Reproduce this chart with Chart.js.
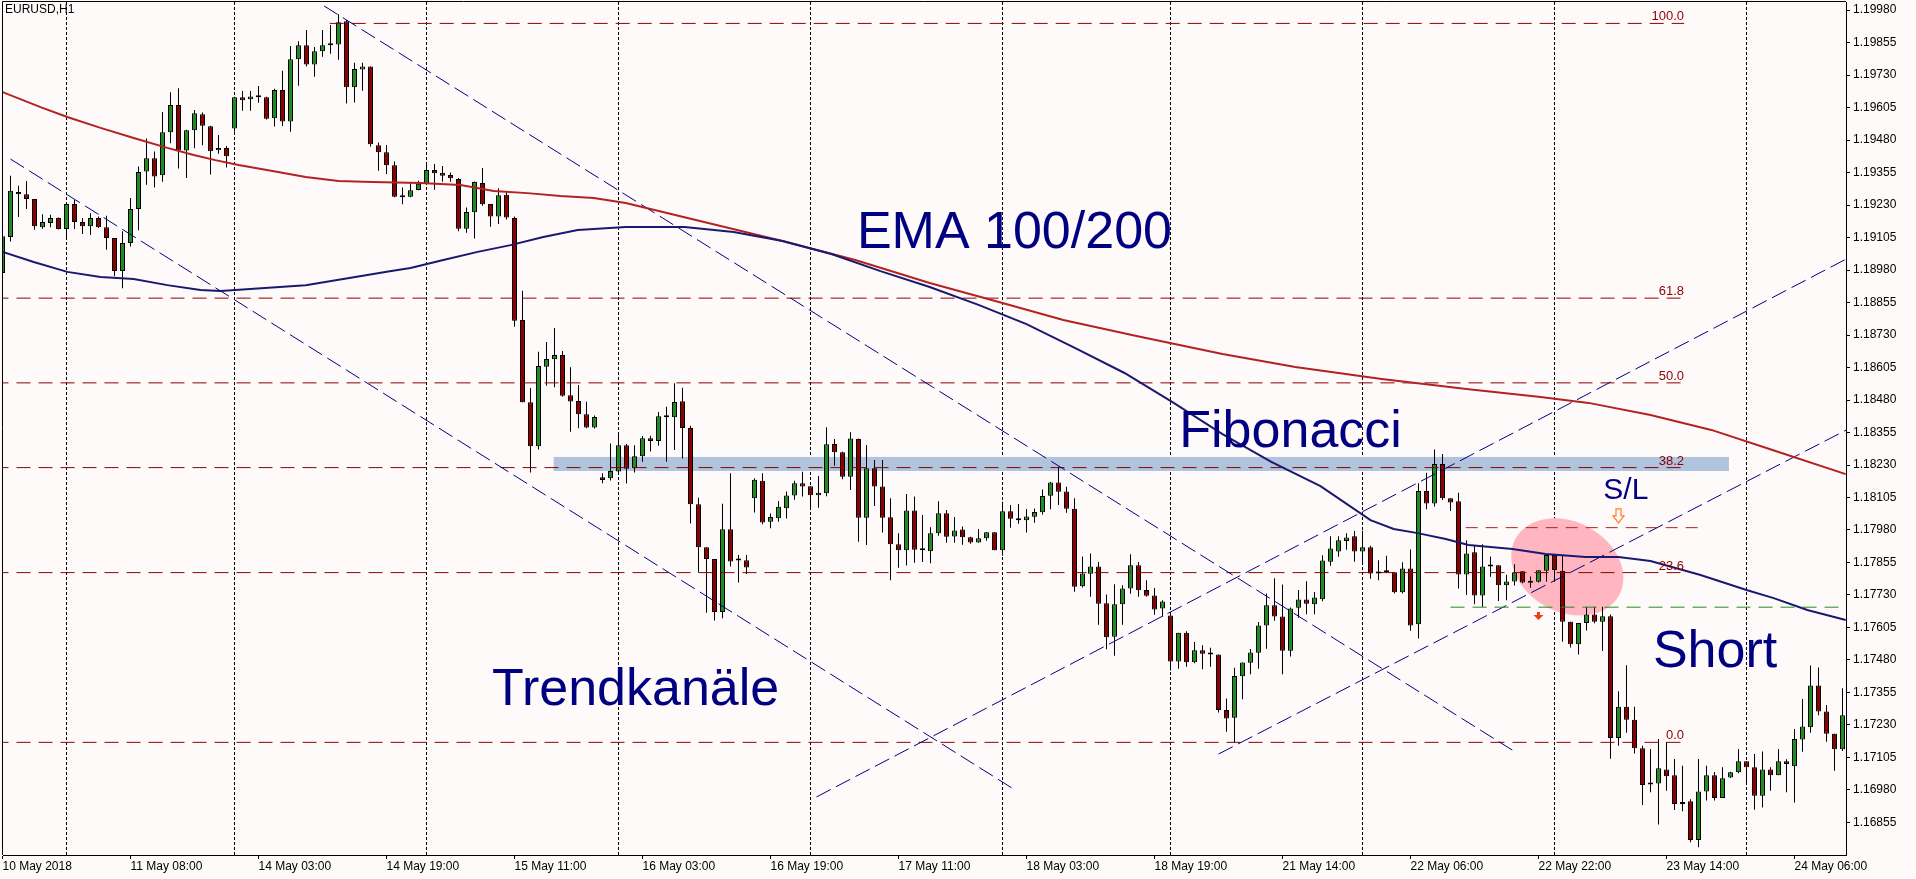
<!DOCTYPE html>
<html>
<head>
<meta charset="utf-8">
<title>EURUSD,H1</title>
<script src="https://cdn.jsdelivr.net/npm/chart.js@4.4.1/dist/chart.umd.min.js"></script>
<style>
  html, body { margin: 0; padding: 0; background: #fffafa; }
  #wrap { width: 1916px; height: 879px; }
</style>
</head>
<body>
<div id="wrap"><canvas id="chart" width="1916" height="879"></canvas></div>
<script>
// ===== Data (EURUSD H1, bar index 0 = 10 May 2018 16:00) =====
const opens = [
  1.18969, 1.19107, 1.19280, 1.19272, 1.19253, 1.19145, 1.19161, 1.19180, 1.19138, 1.19234,
  1.19165, 1.19149, 1.19180, 1.19145, 1.19103, 1.18976, 1.19084, 1.19215, 1.19359, 1.19410,
  1.19345, 1.19510, 1.19615, 1.19440, 1.19518, 1.19579, 1.19533, 1.19441, 1.19450, 1.19525,
  1.19645, 1.19637, 1.19647, 1.19645, 1.19564, 1.19673, 1.19552, 1.19791, 1.19845, 1.19771,
  1.19822, 1.19845, 1.19848, 1.19937, 1.19683, 1.19752, 1.19763, 1.19460, 1.19433, 1.19383,
  1.19262, 1.19262, 1.19288, 1.19312, 1.19365, 1.19354, 1.19346, 1.19330, 1.19139, 1.19202,
  1.19315, 1.19234, 1.19186, 1.19270, 1.19180, 1.18788, 1.18471, 1.18302, 1.18608, 1.18637,
  1.18653, 1.18498, 1.18476, 1.18425, 1.18374, 1.18183, 1.18179, 1.18205, 1.18306, 1.18218,
  1.18264, 1.18333, 1.18322, 1.18418, 1.18414, 1.18475, 1.18372, 1.18079, 1.17914, 1.17868,
  1.17664, 1.17983, 1.17864, 1.17864, 1.18102, 1.18169, 1.18012, 1.18025, 1.18064, 1.18113,
  1.18160, 1.18148, 1.18114, 1.18121, 1.18311, 1.18279, 1.18185, 1.18330, 1.18027, 1.18218,
  1.18147, 1.18029, 1.17925, 1.17902, 1.18055, 1.17907, 1.17898, 1.17967, 1.18044, 1.17955,
  1.17982, 1.17952, 1.17932, 1.17948, 1.17971, 1.17902, 1.18052, 1.18025, 1.18017, 1.18031,
  1.18048, 1.18112, 1.18163, 1.18128, 1.18062, 1.17764, 1.17812, 1.17840, 1.17698, 1.17569,
  1.17694, 1.17755, 1.17844, 1.17749, 1.17728, 1.17678, 1.17651, 1.17474, 1.17585, 1.17471,
  1.17517, 1.17506, 1.17501, 1.17287, 1.17258, 1.17417, 1.17469, 1.17508, 1.17613, 1.17690,
  1.17647, 1.17515, 1.17681, 1.17713, 1.17694, 1.17714, 1.17858, 1.17897, 1.17938, 1.17956,
  1.17897, 1.17914, 1.17817, 1.17817, 1.17817, 1.17740, 1.17832, 1.17617, 1.18130, 1.18082,
  1.18234, 1.18102, 1.18091, 1.17809, 1.17894, 1.17728, 1.17844, 1.17844, 1.17767, 1.17782,
  1.17821, 1.17777, 1.17781, 1.17823, 1.17884, 1.17823, 1.17627, 1.17540, 1.17622, 1.17655,
  1.17627, 1.17648, 1.17180, 1.17300, 1.17250, 1.17140, 1.17005, 1.17005, 1.17059, 1.17036,
  1.16926, 1.16936, 1.16787, 1.16974, 1.17036, 1.16949, 1.17028, 1.17048, 1.17090, 1.17067,
  1.16958, 1.17059, 1.17036, 1.17090, 1.17071, 1.17174, 1.17221, 1.17382, 1.17282, 1.17196,
  1.17136
];
const highs = [
  1.19115, 1.19343, 1.19304, 1.19323, 1.19253, 1.19195, 1.19193, 1.19182, 1.19236, 1.19250,
  1.19180, 1.19199, 1.19186, 1.19189, 1.19103, 1.19129, 1.19257, 1.19378, 1.19486, 1.19436,
  1.19588, 1.19664, 1.19679, 1.19520, 1.19596, 1.19586, 1.19535, 1.19500, 1.19457, 1.19647,
  1.19669, 1.19669, 1.19688, 1.19647, 1.19678, 1.19747, 1.19842, 1.19860, 1.19904, 1.19838,
  1.19904, 1.19923, 1.19964, 1.19942, 1.19778, 1.19778, 1.19763, 1.19471, 1.19461, 1.19398,
  1.19298, 1.19314, 1.19324, 1.19386, 1.19388, 1.19380, 1.19355, 1.19334, 1.19221, 1.19321,
  1.19373, 1.19234, 1.19295, 1.19280, 1.19186, 1.18900, 1.18526, 1.18666, 1.18703, 1.18757,
  1.18669, 1.18606, 1.18538, 1.18473, 1.18420, 1.18198, 1.18313, 1.18348, 1.18311, 1.18306,
  1.18342, 1.18343, 1.18434, 1.18454, 1.18545, 1.18527, 1.18381, 1.18104, 1.17914, 1.17868,
  1.18081, 1.18198, 1.17884, 1.17884, 1.18179, 1.18198, 1.18043, 1.18092, 1.18128, 1.18169,
  1.18204, 1.18148, 1.18188, 1.18375, 1.18330, 1.18281, 1.18356, 1.18332, 1.18307, 1.18249,
  1.18249, 1.18102, 1.17967, 1.18118, 1.18109, 1.18038, 1.17991, 1.18091, 1.18057, 1.18030,
  1.17993, 1.17954, 1.17984, 1.17971, 1.17971, 1.18089, 1.18076, 1.18080, 1.18061, 1.18063,
  1.18136, 1.18165, 1.18223, 1.18146, 1.18102, 1.17878, 1.17890, 1.17857, 1.17732, 1.17771,
  1.17767, 1.17887, 1.17857, 1.17787, 1.17757, 1.17710, 1.17659, 1.17585, 1.17590, 1.17549,
  1.17537, 1.17527, 1.17501, 1.17332, 1.17450, 1.17470, 1.17522, 1.17626, 1.17736, 1.17794,
  1.17770, 1.17682, 1.17749, 1.17783, 1.17741, 1.17883, 1.17956, 1.17956, 1.17967, 1.17976,
  1.17977, 1.17919, 1.17864, 1.17881, 1.17817, 1.17856, 1.17905, 1.18160, 1.18200, 1.18290,
  1.18272, 1.18102, 1.18123, 1.17941, 1.17918, 1.17925, 1.17878, 1.17844, 1.17808, 1.17848,
  1.17821, 1.17801, 1.17825, 1.17884, 1.17886, 1.17884, 1.17627, 1.17622, 1.17685, 1.17685,
  1.17685, 1.17655, 1.17360, 1.17460, 1.17300, 1.17150, 1.17137, 1.17176, 1.17164, 1.17099,
  1.17073, 1.16944, 1.17099, 1.17073, 1.17049, 1.17067, 1.17050, 1.17137, 1.17090, 1.17118,
  1.17128, 1.17067, 1.17137, 1.17098, 1.17214, 1.17330, 1.17459, 1.17451, 1.17307, 1.17196,
  1.17371
];
const lows = [
  1.18960, 1.19090, 1.19184, 1.19215, 1.19135, 1.19139, 1.19145, 1.19136, 1.19103, 1.19138,
  1.19119, 1.19115, 1.19142, 1.19058, 1.18956, 1.18910, 1.19071, 1.19133, 1.19308, 1.19298,
  1.19320, 1.19468, 1.19371, 1.19334, 1.19449, 1.19460, 1.19348, 1.19427, 1.19375, 1.19512,
  1.19593, 1.19593, 1.19624, 1.19559, 1.19532, 1.19534, 1.19512, 1.19689, 1.19763, 1.19724,
  1.19801, 1.19812, 1.19789, 1.19621, 1.19625, 1.19670, 1.19455, 1.19362, 1.19350, 1.19260,
  1.19233, 1.19260, 1.19287, 1.19310, 1.19289, 1.19320, 1.19320, 1.19129, 1.19124, 1.19101,
  1.19227, 1.19147, 1.19157, 1.19175, 1.18762, 1.18471, 1.18201, 1.18290, 1.18535, 1.18529,
  1.18493, 1.18358, 1.18371, 1.18371, 1.18370, 1.18160, 1.18170, 1.18200, 1.18159, 1.18201,
  1.18243, 1.18282, 1.18304, 1.18243, 1.18288, 1.18255, 1.18005, 1.17816, 1.17662, 1.17632,
  1.17640, 1.17840, 1.17778, 1.17811, 1.18047, 1.18002, 1.17987, 1.18012, 1.18024, 1.18096,
  1.18109, 1.18063, 1.18066, 1.18110, 1.18227, 1.18175, 1.18134, 1.17935, 1.17922, 1.18072,
  1.17970, 1.17787, 1.17835, 1.17843, 1.17854, 1.17857, 1.17852, 1.17958, 1.17931, 1.17931,
  1.17923, 1.17927, 1.17931, 1.17939, 1.17902, 1.17881, 1.17989, 1.18004, 1.17970, 1.18008,
  1.18040, 1.18060, 1.18076, 1.18046, 1.17742, 1.17759, 1.17723, 1.17615, 1.17521, 1.17496,
  1.17615, 1.17735, 1.17723, 1.17723, 1.17654, 1.17646, 1.17439, 1.17446, 1.17454, 1.17467,
  1.17444, 1.17454, 1.17278, 1.17204, 1.17163, 1.17329, 1.17425, 1.17446, 1.17523, 1.17631,
  1.17425, 1.17493, 1.17642, 1.17656, 1.17656, 1.17706, 1.17842, 1.17877, 1.17904, 1.17858,
  1.17854, 1.17792, 1.17787, 1.17815, 1.17736, 1.17736, 1.17592, 1.17563, 1.18060, 1.18070,
  1.18095, 1.18053, 1.17755, 1.17730, 1.17694, 1.17685, 1.17800, 1.17707, 1.17710, 1.17766,
  1.17775, 1.17758, 1.17778, 1.17781, 1.17781, 1.17550, 1.17528, 1.17501, 1.17593, 1.17621,
  1.17514, 1.17100, 1.17150, 1.17200, 1.17120, 1.16922, 1.16971, 1.16847, 1.16977, 1.16903,
  1.16898, 1.16779, 1.16759, 1.16939, 1.16939, 1.16949, 1.17026, 1.17044, 1.17001, 1.16904,
  1.16912, 1.16977, 1.17036, 1.16971, 1.16932, 1.17127, 1.17200, 1.17267, 1.17165, 1.17054,
  1.17130
];
const closes = [
  1.19110, 1.19285, 1.19272, 1.19253, 1.19149, 1.19165, 1.19180, 1.19138, 1.19234, 1.19165,
  1.19149, 1.19180, 1.19145, 1.19103, 1.18976, 1.19084, 1.19215, 1.19357, 1.19410, 1.19340,
  1.19510, 1.19615, 1.19440, 1.19518, 1.19583, 1.19535, 1.19437, 1.19450, 1.19418, 1.19645,
  1.19633, 1.19648, 1.19645, 1.19562, 1.19673, 1.19552, 1.19791, 1.19845, 1.19771, 1.19822,
  1.19845, 1.19848, 1.19933, 1.19683, 1.19754, 1.19763, 1.19464, 1.19433, 1.19383, 1.19262,
  1.19260, 1.19287, 1.19312, 1.19365, 1.19352, 1.19343, 1.19333, 1.19139, 1.19203, 1.19319,
  1.19233, 1.19186, 1.19268, 1.19182, 1.18785, 1.18471, 1.18302, 1.18611, 1.18638, 1.18653,
  1.18496, 1.18474, 1.18425, 1.18374, 1.18415, 1.18172, 1.18207, 1.18306, 1.18216, 1.18264,
  1.18333, 1.18322, 1.18418, 1.18414, 1.18472, 1.18372, 1.18079, 1.17914, 1.17868, 1.17664,
  1.17983, 1.17859, 1.17863, 1.17836, 1.18173, 1.18009, 1.18030, 1.18069, 1.18113, 1.18160,
  1.18147, 1.18114, 1.18123, 1.18310, 1.18279, 1.18185, 1.18332, 1.18027, 1.18218, 1.18147,
  1.18027, 1.17925, 1.17902, 1.18055, 1.17904, 1.17902, 1.17967, 1.18044, 1.17954, 1.17978,
  1.17952, 1.17932, 1.17948, 1.17971, 1.17902, 1.18052, 1.18023, 1.18017, 1.18032, 1.18049,
  1.18111, 1.18163, 1.18127, 1.18062, 1.17762, 1.17813, 1.17840, 1.17696, 1.17567, 1.17694,
  1.17755, 1.17844, 1.17748, 1.17727, 1.17674, 1.17705, 1.17474, 1.17585, 1.17471, 1.17517,
  1.17504, 1.17501, 1.17287, 1.17255, 1.17418, 1.17470, 1.17509, 1.17613, 1.17690, 1.17647,
  1.17515, 1.17678, 1.17713, 1.17696, 1.17720, 1.17863, 1.17909, 1.17941, 1.17951, 1.17897,
  1.17914, 1.17813, 1.17813, 1.17817, 1.17740, 1.17832, 1.17613, 1.18130, 1.18082, 1.18234,
  1.18102, 1.18086, 1.17809, 1.17890, 1.17728, 1.17840, 1.17840, 1.17767, 1.17782, 1.17816,
  1.17778, 1.17781, 1.17825, 1.17884, 1.17826, 1.17627, 1.17540, 1.17622, 1.17655, 1.17627,
  1.17648, 1.17180, 1.17300, 1.17250, 1.17140, 1.16999, 1.17001, 1.17063, 1.17033, 1.16926,
  1.16932, 1.16787, 1.16974, 1.17036, 1.16949, 1.17025, 1.17048, 1.17090, 1.17067, 1.16958,
  1.17059, 1.17036, 1.17090, 1.17080, 1.17176, 1.17224, 1.17382, 1.17282, 1.17196, 1.17136,
  1.17267
];

// time axis labels (every 16 bars) and daily separators
const xTickBars = [0, 16, 32, 48, 64, 80, 96, 112, 128, 144, 160, 176, 192, 208, 224];
const xTickLabels = [
  "10 May 2018", "11 May 08:00", "14 May 03:00", "14 May 19:00", "15 May 11:00",
  "16 May 03:00", "16 May 19:00", "17 May 11:00", "18 May 03:00", "18 May 19:00",
  "21 May 14:00", "22 May 06:00", "22 May 22:00", "23 May 14:00", "24 May 06:00"
];
const daySeparatorBars = [8, 29, 53, 77, 101, 125, 146, 170, 194, 218];

// price axis labels
const yTickValues = [
  1.16855, 1.16980, 1.17105, 1.17230, 1.17355, 1.17480, 1.17605, 1.17730, 1.17855,
  1.17980, 1.18105, 1.18230, 1.18355, 1.18480, 1.18605, 1.18730, 1.18855, 1.18980,
  1.19105, 1.19230, 1.19355, 1.19480, 1.19605, 1.19730, 1.19855, 1.19980
];

// EMA 200 (red) and EMA 100 (blue)
const ema200Bars = [0, 4.75, 8.1, 12.25, 16.4, 20.6, 23.9, 26.6, 29.5, 33.75, 37.9, 42, 46.25,
  52.25, 57.25, 61.4, 65.6, 69.75, 73.9, 77.9, 97.5, 106.6, 115.9, 125, 132.6, 141.75, 152.5,
  161.6, 172.4, 183, 192.25, 198.25, 206, 213.6, 221.25, 230.4];
const ema200Values = [1.19665, 1.19607, 1.19569, 1.19527, 1.19488, 1.19450, 1.19423, 1.19403,
  1.19384, 1.19361, 1.19338, 1.19323, 1.19319, 1.19315, 1.19307, 1.19284, 1.19276, 1.19265,
  1.19257, 1.19238, 1.19092, 1.19019, 1.18930, 1.18853, 1.18788, 1.18726, 1.18657, 1.18607,
  1.18561, 1.18522, 1.18492, 1.18469, 1.18422, 1.18365, 1.18288, 1.18195];
const ema100Bars = [0, 3.9, 8.1, 12.25, 16.4, 20.6, 24.75, 27.25, 37.9, 48.6, 51, 55.1, 59.4,
  63.5, 67.6, 71.9, 77.9, 85.25, 91.4, 97.5, 103.6, 109.75, 115.9, 122, 128, 134.1, 140.25,
  146.4, 152.5, 158.6, 164.75, 171, 173.9, 176.9, 180.4, 183.25, 188.75, 192.9, 197.9, 202,
  206, 212.25, 218, 221.4, 225.6, 230.4];
const ema100Values = [1.19050, 1.19011, 1.18973, 1.18953, 1.18946, 1.18922, 1.18903, 1.18899,
  1.18922, 1.18976, 1.18988, 1.19019, 1.19050, 1.19076, 1.19107, 1.19134, 1.19146, 1.19146,
  1.19126, 1.19092, 1.19042, 1.18976, 1.18915, 1.18846, 1.18772, 1.18680, 1.18584, 1.18469,
  1.18349, 1.18242, 1.18149, 1.18018, 1.17984, 1.17968, 1.17945, 1.17922, 1.17907, 1.17888,
  1.17876, 1.17876, 1.17861, 1.17807, 1.17749, 1.17718, 1.17672, 1.17634];

// trend channel lines (start / end anchors)
const channelStartBars = [1.0, 40.2, 101.75, 152.0];
const channelStartPrices = [1.19407, 1.19996, 1.16953, 1.17118];
const channelEndBars = [126.2, 189.1, 230.5, 230.5];
const channelEndPrices = [1.16987, 1.17126, 1.19023, 1.18365];

// Fibonacci retracement
const fibNames = ["0.0", "23.6", "38.2", "50.0", "61.8", "100.0"];
const fibPrices = [1.17163, 1.17816, 1.18220, 1.18546, 1.18872, 1.19929];
const fibStartBars = [-1, -1, -1, -1, -1, 40.9];
const fibEndBar = 210.2;

// resistance zone, stop loss and entry levels
const zoneBars = [68.9, 215.8];
const zonePrices = [1.18207, 1.18261];
const stopLossBars = [182.9, 212.8];
const stopLossPrice = 1.17989;
const entryBars = [181, 231];
const entryPrice = 1.17683;

// ===== Styling =====
const upColor = "#228b22";
const downColor = "#8b0000";
const fibColor = "#8b0000";
const navy = "#000080";

Chart.defaults.font.family = '"Liberation Sans", Arial, sans-serif';
Chart.defaults.color = "#000";

const bodyColors = opens.map((o, i) =>
  closes[i] > o ? upColor : closes[i] < o ? downColor : "#000"
);

function segment(x0, y0, x1, y1) {
  return [{ x: x0, y: y0 }, { x: x1, y: y1 }];
}

const fibDatasets = fibPrices.map((p, i) => ({
  type: "line",
  label: "fib " + fibNames[i],
  data: segment(fibStartBars[i], p, fibEndBar, p),
  borderColor: fibColor,
  borderWidth: 1,
  borderDash: [14, 8],
  pointRadius: 0,
  order: 5,
}));

const channelDatasets = channelStartBars.map((b, i) => ({
  type: "line",
  label: "channel " + i,
  data: segment(b, channelStartPrices[i], channelEndBars[i], channelEndPrices[i]),
  borderColor: navy,
  borderWidth: 1,
  borderDash: [16, 6],
  pointRadius: 0,
  order: 4,
}));

// ===== Overlay drawings (zone, highlight, texts, arrows, frame) =====
const notes = [
  { text: "EMA 100/200", bar: 106.8, price: 1.19065, size: 52 },
  { text: "Fibonacci", bar: 147.1, price: 1.18299, size: 52 },
  { text: "Trendkanäle", bar: 61.2, price: 1.17307, size: 52 },
  { text: "Short", bar: 206.3, price: 1.17453, size: 52 },
  { text: "S/L", bar: 200.1, price: 1.18099, size: 30 },
];

const overlayPlugin = {
  id: "overlay",
  beforeDatasetsDraw(chart) {
    const { ctx, chartArea: a, scales: { x, y } } = chart;
    ctx.save();
    ctx.beginPath();
    ctx.rect(a.left, a.top, a.right - a.left, a.bottom - a.top);
    ctx.clip();

    // period separators
    ctx.strokeStyle = "#000";
    ctx.lineWidth = 1;
    ctx.setLineDash([3, 2]);
    daySeparatorBars.forEach((b) => {
      const px = x.getPixelForValue(b);
      ctx.beginPath();
      ctx.moveTo(px, a.top);
      ctx.lineTo(px, a.bottom);
      ctx.stroke();
    });
    ctx.setLineDash([]);

    // zone rectangle
    const zx0 = x.getPixelForValue(zoneBars[0]);
    const zx1 = x.getPixelForValue(zoneBars[1]);
    const zy0 = y.getPixelForValue(zonePrices[1]);
    const zy1 = y.getPixelForValue(zonePrices[0]);
    ctx.fillStyle = "#b0c4de";
    ctx.fillRect(zx0, zy0, zx1 - zx0, zy1 - zy0);

    // entry highlight
    ctx.fillStyle = "#ffb6c1";
    ctx.beginPath();
    ctx.ellipse(x.getPixelForValue(195.6), y.getPixelForValue(1.17838), 59, 45, 0.5, 0, Math.PI * 2);
    ctx.fill();
    ctx.restore();
  },
  afterDatasetsDraw(chart) {
    const { ctx, chartArea: a, scales: { x, y } } = chart;
    ctx.save();
    ctx.beginPath();
    ctx.rect(a.left, a.top, a.right - a.left, a.bottom - a.top);
    ctx.clip();

    // fib labels
    ctx.font = '13px "Liberation Sans", Arial, sans-serif';
    ctx.fillStyle = fibColor;
    ctx.textAlign = "right";
    ctx.textBaseline = "alphabetic";
    fibPrices.forEach((p, i) => {
      ctx.fillText(fibNames[i], x.getPixelForValue(fibEndBar), y.getPixelForValue(p) - 3);
    });

    // big notes
    ctx.textAlign = "left";
    ctx.fillStyle = navy;
    notes.forEach((n) => {
      ctx.font = n.size + 'px "Liberation Sans", Arial, sans-serif';
      ctx.fillText(n.text, x.getPixelForValue(n.bar), y.getPixelForValue(n.price));
    });

    // stop loss arrow (hollow, orange)
    let cx = x.getPixelForValue(202);
    let top = y.getPixelForValue(1.18061);
    let bot = y.getPixelForValue(1.18007);
    ctx.beginPath();
    ctx.moveTo(cx - 2.5, top);
    ctx.lineTo(cx + 2.5, top);
    ctx.lineTo(cx + 2.5, top + 7);
    ctx.lineTo(cx + 5.5, top + 7);
    ctx.lineTo(cx, bot);
    ctx.lineTo(cx - 5.5, top + 7);
    ctx.lineTo(cx - 2.5, top + 7);
    ctx.closePath();
    ctx.fillStyle = "#fffafa";
    ctx.fill();
    ctx.strokeStyle = "#ff7f27";
    ctx.lineWidth = 1.2;
    ctx.stroke();

    // sell arrow (filled, red)
    cx = x.getPixelForValue(192);
    top = y.getPixelForValue(1.17664);
    bot = y.getPixelForValue(1.17634);
    ctx.beginPath();
    ctx.moveTo(cx - 1.5, top);
    ctx.lineTo(cx + 1.5, top);
    ctx.lineTo(cx + 1.5, top + 3);
    ctx.lineTo(cx + 5, top + 3);
    ctx.lineTo(cx, bot);
    ctx.lineTo(cx - 5, top + 3);
    ctx.lineTo(cx - 1.5, top + 3);
    ctx.closePath();
    ctx.fillStyle = "#e8401c";
    ctx.fill();
    ctx.restore();
  },
  afterDraw(chart) {
    const { ctx, chartArea: a } = chart;
    ctx.save();
    ctx.strokeStyle = "#000";
    ctx.lineWidth = 1;
    ctx.beginPath();
    ctx.moveTo(2.5, a.bottom);
    ctx.lineTo(2.5, 1.5);
    ctx.lineTo(a.right, 1.5);
    ctx.stroke();
    ctx.font = '12px "Liberation Sans", Arial, sans-serif';
    ctx.fillStyle = "#000";
    ctx.textBaseline = "top";
    ctx.fillText("EURUSD,H1", 5, 4);
    ctx.restore();
  },
};

new Chart(document.getElementById("chart"), {
  type: "bar",
  data: {
    datasets: [
      {
        label: "wicks",
        data: opens.map((_, i) => ({ x: i, y: [lows[i], highs[i]] })),
        backgroundColor: "#000",
        borderWidth: 0,
        barThickness: 1,
        inflateAmount: 0,
        grouped: false,
        order: 10,
      },
      {
        label: "bodies",
        data: opens.map((o, i) => ({ x: i, y: [o, closes[i]] })),
        backgroundColor: bodyColors,
        borderColor: "#000",
        borderWidth: 1,
        borderSkipped: false,
        barThickness: 5,
        minBarLength: 2,
        inflateAmount: 0,
        grouped: false,
        order: 9,
      },
      ...fibDatasets,
      ...channelDatasets,
      {
        type: "line",
        label: "stop loss",
        data: segment(stopLossBars[0], stopLossPrice, stopLossBars[1], stopLossPrice),
        borderColor: "#b22222",
        borderWidth: 1,
        borderDash: [12, 8],
        pointRadius: 0,
        order: 3,
      },
      {
        type: "line",
        label: "entry",
        data: segment(entryBars[0], entryPrice, entryBars[1], entryPrice),
        borderColor: "#228b22",
        borderWidth: 1,
        borderDash: [14, 8],
        pointRadius: 0,
        order: 3,
      },
      {
        type: "line",
        label: "EMA 200",
        data: ema200Bars.map((b, i) => ({ x: b, y: ema200Values[i] })),
        borderColor: "#b22222",
        borderWidth: 2,
        pointRadius: 0,
        order: 2,
      },
      {
        type: "line",
        label: "EMA 100",
        data: ema100Bars.map((b, i) => ({ x: b, y: ema100Values[i] })),
        borderColor: "#191970",
        borderWidth: 2,
        pointRadius: 0,
        order: 1,
      },
    ],
  },
  options: {
    responsive: false,
    animation: false,
    layout: { padding: { left: 3, top: 2, right: 0, bottom: 0 } },
    plugins: {
      legend: { display: false },
      tooltip: { enabled: false },
    },
    scales: {
      x: {
        type: "linear",
        min: 0.0625,
        max: 230.4375,
        offset: false,
        afterBuildTicks: (s) => {
          s.ticks = xTickBars.map((v) => ({ value: v }));
        },
        afterFit: (s) => {
          s.height = 24;
          s.paddingLeft = 0;
          s.paddingRight = 0;
        },
        ticks: {
          callback: (v, i) => xTickLabels[i],
          align: "start",
          padding: 0,
          maxRotation: 0,
          autoSkip: false,
          color: "#000",
          font: { size: 12 },
        },
        grid: { offset: false, drawOnChartArea: false, tickLength: 4, color: "#000" },
        border: { color: "#000", width: 1 },
      },
      y: {
        type: "linear",
        position: "right",
        min: 1.167296,
        max: 1.200113,
        beginAtZero: false,
        afterBuildTicks: (s) => {
          s.ticks = yTickValues.map((v) => ({ value: v }));
        },
        afterFit: (s) => {
          s.width = 70;
          s.paddingTop = 0;
          s.paddingBottom = 0;
        },
        ticks: {
          callback: (v) => v.toFixed(5),
          padding: 3,
          autoSkip: false,
          color: "#000",
          font: { size: 12 },
        },
        grid: { drawOnChartArea: false, tickLength: 4, color: "#000" },
        border: { color: "#000", width: 1 },
      },
    },
  },
  plugins: [overlayPlugin],
});
</script>
</body>
</html>
